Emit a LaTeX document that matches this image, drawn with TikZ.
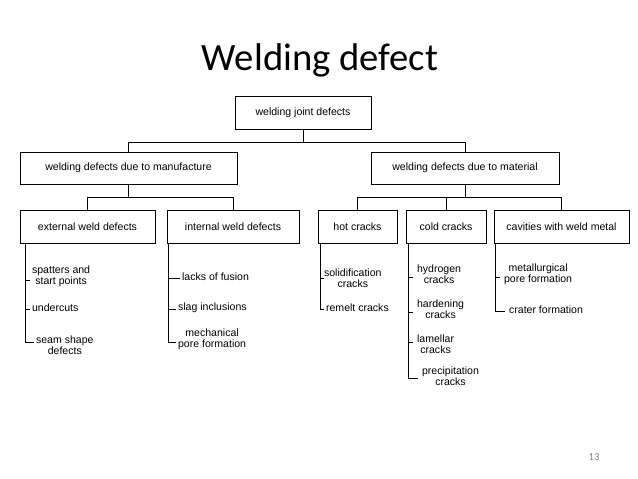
\documentclass[tikz,border=0pt]{standalone}
\usepackage{fontspec}
\setmainfont{Liberation Sans}
\newfontfamily\titlefont{Carlito}
\begin{document}
\begin{tikzpicture}[x=0.02cm,y=-0.02cm,
  box/.style={draw,line width=0.5pt,inner sep=0pt,font=\fontsize{6}{7}\selectfont},
  leaf/.style={align=center,font=\fontsize{6}{6.5}\selectfont,anchor=west,inner sep=1pt},
  wire/.style={line width=0.5pt}]
\useasboundingbox (0,0) rectangle (638,478);
% boxes
\node[box,minimum width=136*0.02cm,minimum height=33*0.02cm] (top) at (303,112.5) {welding joint defects};
\node[box,minimum width=217*0.02cm,minimum height=32*0.02cm] (man) at (128.5,168) {welding defects due to manufacture};
\node[box,minimum width=188*0.02cm,minimum height=32*0.02cm] (mat) at (465,168) {welding defects due to material};
\node[box,minimum width=135*0.02cm,minimum height=33*0.02cm] (ext) at (87.5,226.5) {external weld defects};
\node[box,minimum width=132*0.02cm,minimum height=33*0.02cm] (int) at (233,226.5) {internal weld defects};
\node[box,minimum width=79*0.02cm,minimum height=33*0.02cm] (hot) at (357.5,226.5) {hot cracks};
\node[box,minimum width=80*0.02cm,minimum height=33*0.02cm] (cold) at (446,226.5) {cold cracks};
\node[box,minimum width=135*0.02cm,minimum height=33*0.02cm] (cav) at (561.5,226.5) {cavities with weld metal};
% tree connectors
\draw[wire] (top.south) -- ++(0,13) coordinate (j1);
\draw[wire] (man.north) |- (j1) -| (mat.north);
\draw[wire] (man.south) -- ++(0,13) coordinate (j2);
\draw[wire] (ext.north) |- (j2) -| (int.north);
\draw[wire] (mat.south) -- ++(0,13) coordinate (j3);
\draw[wire] (hot.north) |- (j3) -| (cav.north);
\draw[wire] (cold.north) -- (cold.north |- j3);
% leaves
\node[leaf] (e1) at (30,276) {spatters and\\start points};
\node[leaf] (e2) at (30,308) {undercuts};
\node[leaf] (e3) at (34,345) {seam shape\\defects};
\draw[wire] (25,243) |- (30,280) (25,280) |- (30,309) (25,309) |- (34,342);
\node[leaf] (i1) at (180,277) {lacks of fusion};
\node[leaf] (i2) at (176,308) {slag inclusions};
\node[leaf] (i3) at (176,339) {mechanical\\pore formation};
\draw[wire] (168,243) |- (180,278) (168,278) |- (176,309) (168,309) |- (176,342);
\node[leaf] (h1) at (322,278) {solidification\\cracks};
\node[leaf] (h2) at (324,308) {remelt cracks};
\draw[wire] (320,243) |- (324,278) (320,278) |- (324,309);
\node[leaf] (c1) at (415,274) {hydrogen\\cracks};
\node[leaf] (c2) at (415,309) {hardening\\cracks};
\node[leaf] (c3) at (415,344) {lamellar\\cracks};
\node[leaf] (c4) at (420,376) {precipitation\\cracks};
\draw[wire] (408,243) |- (413,277) (408,277) |- (413,312) (408,312) |- (413,342) (408,342) |- (418,378);
\node[leaf] (v1) at (502,274) {metallurgical\\pore formation};
\node[leaf] (v2) at (507,310) {crater formation};
\draw[wire] (495,243) |- (500,277) (495,277) |- (505,311);
% title and page number
\node[font=\titlefont\fontsize{22}{26}\selectfont] (title) at (320,60) {Welding defect};
\node[font=\titlefont\fontsize{6}{7}\selectfont,text=gray] (pg) at (594,457) {13};
\end{tikzpicture}
\end{document}
